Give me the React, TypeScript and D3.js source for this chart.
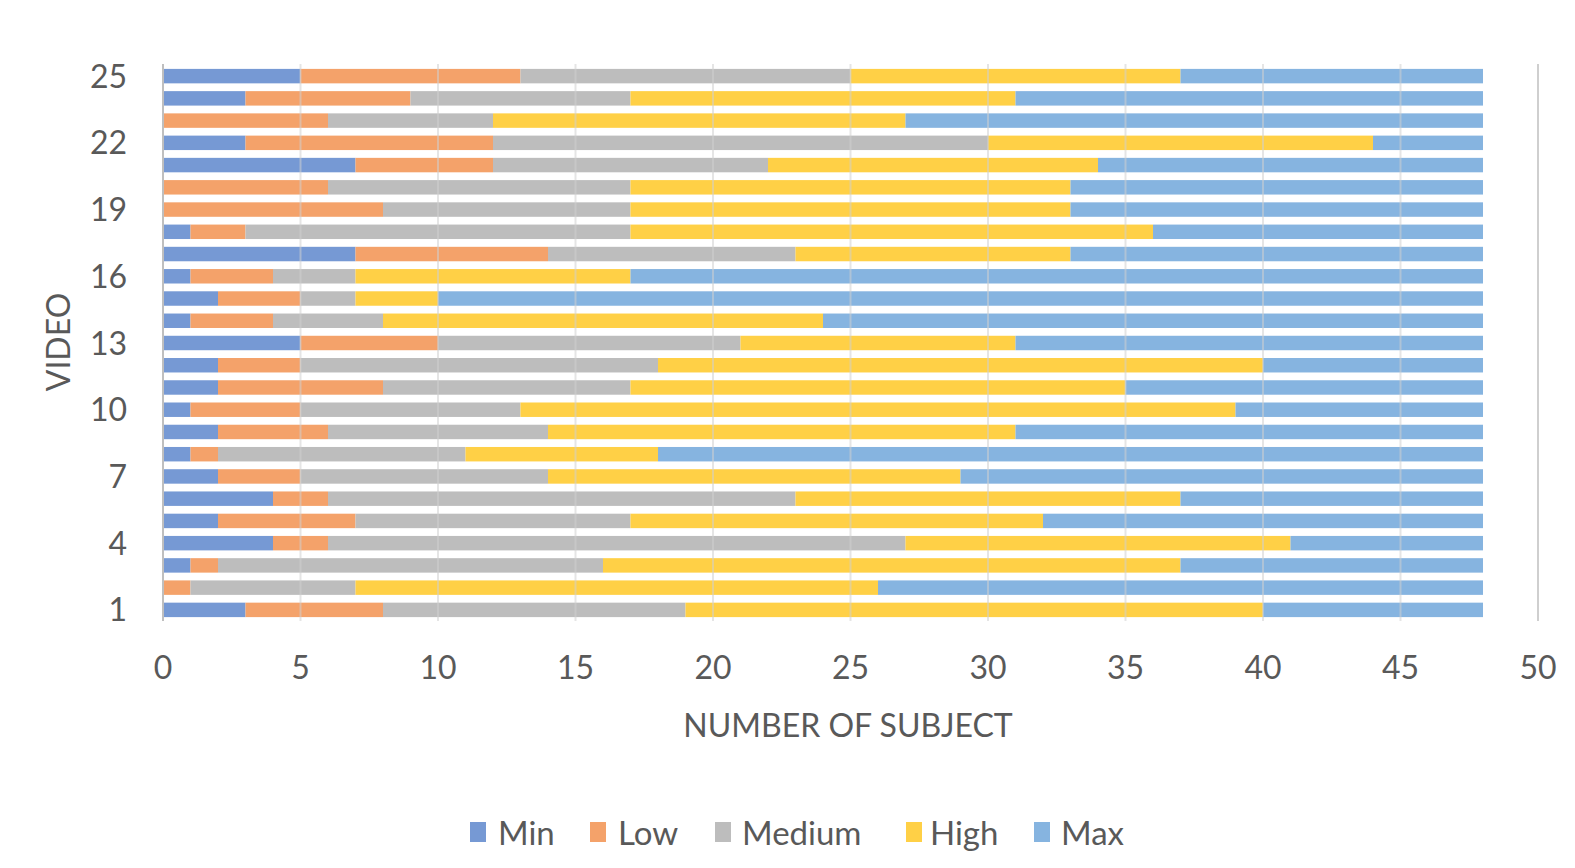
import { useEffect } from "react"
import * as d3 from "d3"

// videos 1..25, counts per rating level
const videos = d3.range(1, 26).map(String)
const levels = ["Min", "Low", "Medium", "High", "Max"]
const minVals = [3, 0, 1, 4, 2, 4, 2, 1, 2, 1, 2, 2, 5, 1, 2, 1, 7, 1, 0, 0, 7, 3, 0, 3, 5]
const lowVals = [5, 1, 1, 2, 5, 2, 3, 1, 4, 4, 6, 3, 5, 3, 3, 3, 7, 2, 8, 6, 5, 9, 6, 6, 8]
const mediumVals = [11, 6, 14, 21, 10, 17, 9, 9, 8, 8, 9, 13, 11, 4, 2, 3, 9, 14, 9, 11, 10, 18, 6, 8, 12]
const highVals = [21, 19, 21, 14, 15, 14, 15, 7, 17, 26, 18, 22, 10, 16, 3, 10, 10, 19, 16, 16, 12, 14, 15, 14, 12]
const maxVals = [8, 22, 11, 7, 16, 11, 19, 30, 17, 9, 13, 8, 17, 24, 38, 31, 15, 12, 15, 15, 14, 4, 21, 17, 11]
const xTicks = [0, 5, 10, 15, 20, 25, 30, 35, 40, 45, 50]
const yTickLabels = ["1", "4", "7", "10", "13", "16", "19", "22", "25"]

const colors = ["#7699d4", "#f4a26a", "#bdbdbd", "#ffd046", "#86b4e0"]
const font = "Lato, 'Open Sans', sans-serif"
const textColor = "#595959"

export default function App() {
  useEffect(() => {
    document.body.style.margin = "0"
  }, [])

  const width = 1575
  const height = 868

  const rows = videos.map((v, i) => ({
    video: v,
    Min: minVals[i],
    Low: lowVals[i],
    Medium: mediumVals[i],
    High: highVals[i],
    Max: maxVals[i],
  }))
  const series = d3.stack<any>().keys(levels)(rows)

  const x = d3.scaleLinear().domain([0, 50]).range([163, 1538])
  const y = d3
    .scaleBand()
    .domain(videos.slice().reverse())
    .range([65, 621])
    .paddingInner(0.35)
    .paddingOuter(0.175)

  const legendItems = [
    { x: 470, tx: 498 },
    { x: 590, tx: 618 },
    { x: 715, tx: 742 },
    { x: 906, tx: 930 },
    { x: 1034, tx: 1061 },
  ]

  return (
    <svg width={width} height={height} style={{ display: "block", background: "#fff" }}>
      {/* bars */}
      {series.map((s, si) => (
        <g key={levels[si]} fill={colors[si]}>
          {s.map((d: any) => (
            <rect
              key={d.data.video}
              x={x(d[0])}
              y={y(d.data.video)}
              width={x(d[1]) - x(d[0])}
              height={y.bandwidth()}
            />
          ))}
        </g>
      ))}

      {/* gridlines, faintly visible over bars */}
      {xTicks.slice(1).map((t) => (
        <line
          key={t}
          x1={x(t)}
          x2={x(t)}
          y1={64}
          y2={621}
          stroke="#cfcfcf"
          strokeOpacity={t === 50 ? 1 : 0.55}
          strokeWidth={2}
        />
      ))}
      <line x1={x(0)} x2={x(0)} y1={64} y2={621} stroke="#bfbfbf" strokeWidth={2} />

      {/* y ticks */}
      {yTickLabels.map((t) => (
        <text
          key={t}
          x={127}
          y={(y(t) ?? 0) + y.bandwidth() / 2}
          dy="0.36em"
          textAnchor="end"
          fontFamily={font}
          fontSize={32}
          fill={textColor}
        >
          {t}
        </text>
      ))}

      {/* x ticks */}
      {xTicks.map((t) => (
        <text
          key={t}
          x={x(t)}
          y={667}
          dy="0.36em"
          textAnchor="middle"
          fontFamily={font}
          fontSize={32}
          fill={textColor}
        >
          {t}
        </text>
      ))}

      {/* axis titles */}
      <text
        x={848}
        y={725}
        dy="0.36em"
        textAnchor="middle"
        fontFamily={font}
        fontSize={32}
        fill={textColor}
      >
        NUMBER OF SUBJECT
      </text>
      <text
        transform="translate(58,342) rotate(-90)"
        dy="0.36em"
        textAnchor="middle"
        fontFamily={font}
        fontSize={32}
        fill={textColor}
      >
        VIDEO
      </text>

      {/* legend */}
      {levels.map((l, i) => (
        <g key={l}>
          <rect x={legendItems[i].x} y={822} width={16} height={20} fill={colors[i]} />
          <text
            x={legendItems[i].tx}
            y={833}
            dy="0.36em"
            fontFamily={font}
            fontSize={33}
            fill={textColor}
          >
            {l}
          </text>
        </g>
      ))}
    </svg>
  )
}
